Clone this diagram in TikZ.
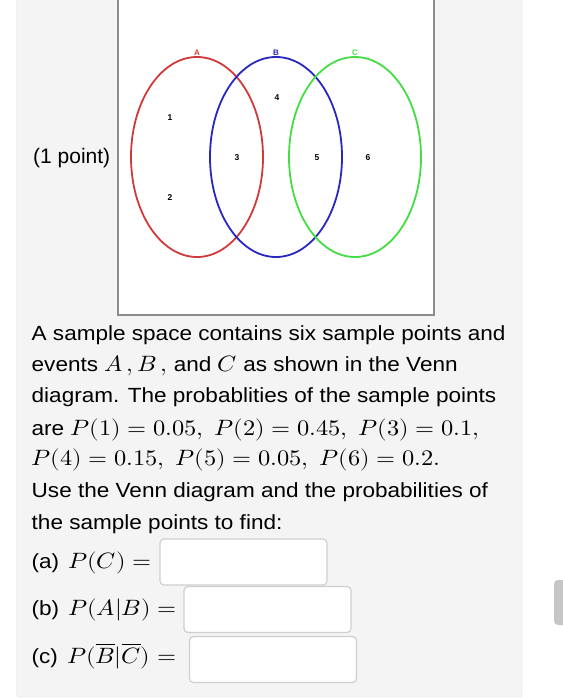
\documentclass[tikz,border=0pt]{standalone}
\usepackage{amsmath}
\usepackage{fontspec}
\usepackage{unicode-math}
\setmathfont{Latin Modern Math}
\usetikzlibrary{positioning}
\newfontfamily\helv{Liberation Sans}
\newcommand{\wide}[1]{\scalebox{1.1}[1]{#1}}
\newcommand{\mth}[1]{{\fontsize{22.2}{26}\selectfont$#1$}}
\definecolor{panelgray}{HTML}{F4F4F4}
\definecolor{paneledge}{HTML}{E0E0E0}
\definecolor{framegray}{HTML}{8C8C8C}
\definecolor{boxedge}{HTML}{CFCFCF}
\definecolor{tabgray}{HTML}{C6C6C6}
\definecolor{setred}{HTML}{D03A3A}
\definecolor{setblue}{HTML}{2828C0}
\definecolor{setgreen}{HTML}{44DD44}
\tikzset{set/.style = {draw=#1, line width=1.8pt},
         setname/.style = {font=\helv\bfseries\fontsize{8}{9}\selectfont, inner sep=0pt},
         pt/.style = {font=\helv\bfseries\fontsize{8.5}{9}\selectfont, inner sep=0pt},
         body/.style = {font=\helv\fontsize{20.5}{26}\selectfont, anchor=base west, inner sep=0pt},
         answerbox/.style = {draw=boxedge, fill=white, line width=1.2pt, rounded corners=4pt,
                             minimum width=167pt, minimum height=46pt, inner sep=0pt}}

\begin{document}
\begin{tikzpicture}[x=1pt, y=-1pt]
    \useasboundingbox (0,0) rectangle (562,700);
    \fill [white] (0,0) rectangle (562,700);

    % question panel and scroll tab
    \draw [fill=panelgray, draw=paneledge, rounded corners=3pt] (16.5,-10) rectangle (522,697);
    \fill [tabgray, rounded corners=4pt] (554,580) rectangle (572,625);

    % venn diagram
    \draw [fill=white, draw=framegray, line width=1.5pt] (118,-10) rectangle (434,315);
    \draw [set=setred] (197,157) ellipse [x radius=66pt, y radius=100pt];
    \draw [set=setblue] (276,157) ellipse [x radius=66pt, y radius=100pt];
    \draw [set=setgreen] (355,157) ellipse [x radius=66pt, y radius=100pt];

    \node [setname, text=setred] (nameA) at (197,53) {A};
    \node [setname, text=setblue] (nameB) at (276,53) {B};
    \node [setname, text=setgreen] (nameC) at (355,53) {C};

    \node [pt] (p1) at (170,118) {1};
    \node [pt] (p2) at (170,198) {2};
    \node [pt] (p3) at (237,158) {3};
    \node [pt] (p4) at (277,98) {4};
    \node [pt] (p5) at (317,158) {5};
    \node [pt] (p6) at (368,158) {6};

    \node [body, font=\helv\fontsize{21}{26}\selectfont] (points) at (33,164) {(1 point)};

    % question text
    \node [body] (line1) at (31.5,340) {\wide{A sample space contains six sample points and}};
    \node [body] (line2) at (31.5,371) {\wide{events \mth{A\,,B\,,} and \mth{C} as shown in the Venn}};
    \node [body] (line3) at (31.5,402) {\wide{diagram. The probablities of the sample points}};
    \node [body] (line4) at (31.5,435) {\wide{are \mth{P(1) = 0.05,\ P(2) = 0.45,\ P(3) = 0.1,}}};
    \node [body] (line5) at (31.5,465) {\wide{\mth{P(4) = 0.15,\ P(5) = 0.05,\ P(6) = 0.2.}}};
    \node [body] (line6) at (31.5,497) {\wide{Use the Venn diagram and the probabilities of}};
    \node [body] (line7) at (31.5,529) {\wide{the sample points to find:}};

    % parts and answer boxes
    \node [body] (qa) at (31.5,568) {\wide{(a)\hspace{0.4em}\mth{P(C) =}}};
    \node [body] (qb) at (31.5,615) {\wide{(b)\hspace{0.4em}\mth{P(A|B) =}}};
    \node [body] (qc) at (31.5,663) {\wide{(c)\hspace{0.4em}\mth{P(\overline{B}|\overline{C}) =}}};

    \node [answerbox] (ansa) at (243.5,562) {};
    \node [answerbox] (ansb) at (267.5,609.5) {};
    \node [answerbox] (ansc) at (273,659.5) {};
\end{tikzpicture}
\end{document}
